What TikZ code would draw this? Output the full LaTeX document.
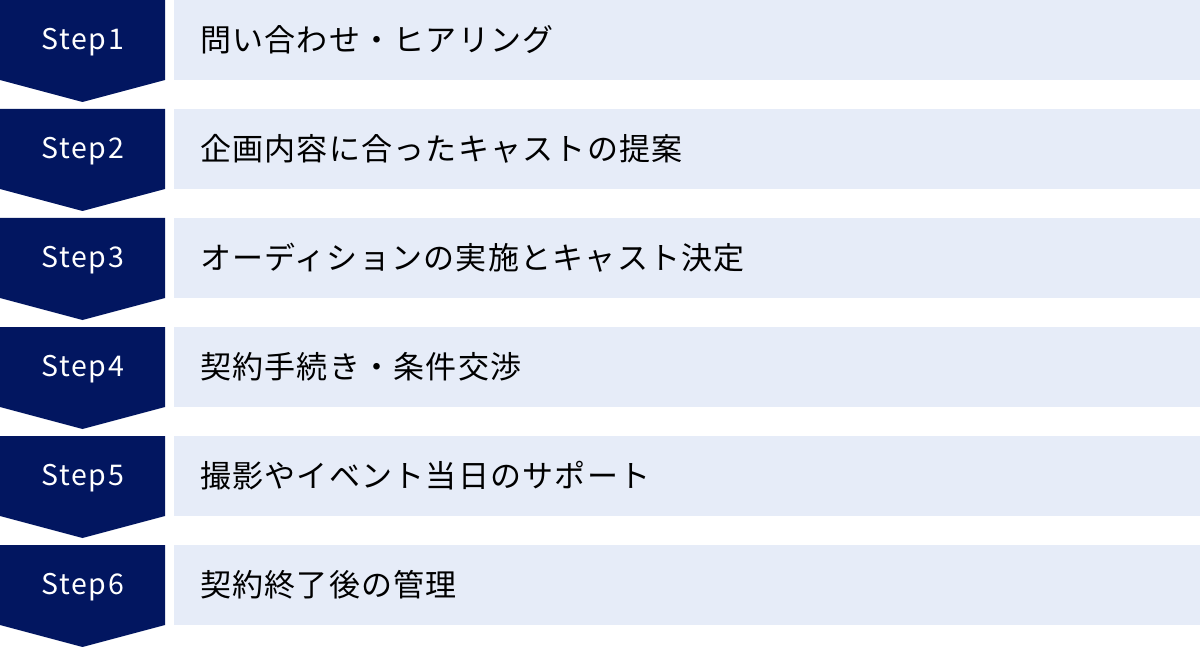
\documentclass[tikz,border=0pt]{standalone}
\usepackage{fontspec}
\setmainfont{Noto Sans CJK JP}[LetterSpace=4]
\newfontfamily\stepfont{Noto Sans CJK JP}[LetterSpace=6]
\definecolor{navy}{RGB}{2,22,96}
\definecolor{lightbox}{RGB}{230,236,248}
\begin{document}
\begin{tikzpicture}[x=1pt,y=-1pt,
  stepshape/.style={fill=navy,draw=none},
  stepbox/.style={fill=lightbox,draw=none},
  steplabel/.style={text=white,font=\stepfont\fontsize{28.5}{32}\selectfont,inner sep=0pt},
  boxlabel/.style={text=black,font=\fontsize{31}{36}\selectfont,anchor=west,inner sep=0pt}]
\useasboundingbox (0,0) rectangle (1200,647);
\foreach \i/\t in {1/問い合わせ・ヒアリング,2/企画内容に合ったキャストの提案,3/オーディションの実施とキャスト決定,4/契約手続き・条件交渉,5/撮影やイベント当日のサポート,6/契約終了後の管理}{
  \pgfmathsetmacro{\y}{109*(\i-1)}
  \fill[stepshape] (0,\y) -- (165,\y) -- (165,\y+80) -- (82.5,\y+102) -- (0,\y+80) -- cycle;
  \fill[stepbox] (174,\y) rectangle (1200,\y+80);
  \node[steplabel] (s\i) at (82.5,\y+42) {Step\i};
  \node[boxlabel] (t\i) at (200,\y+40) {\t};
}
\end{tikzpicture}
\end{document}
